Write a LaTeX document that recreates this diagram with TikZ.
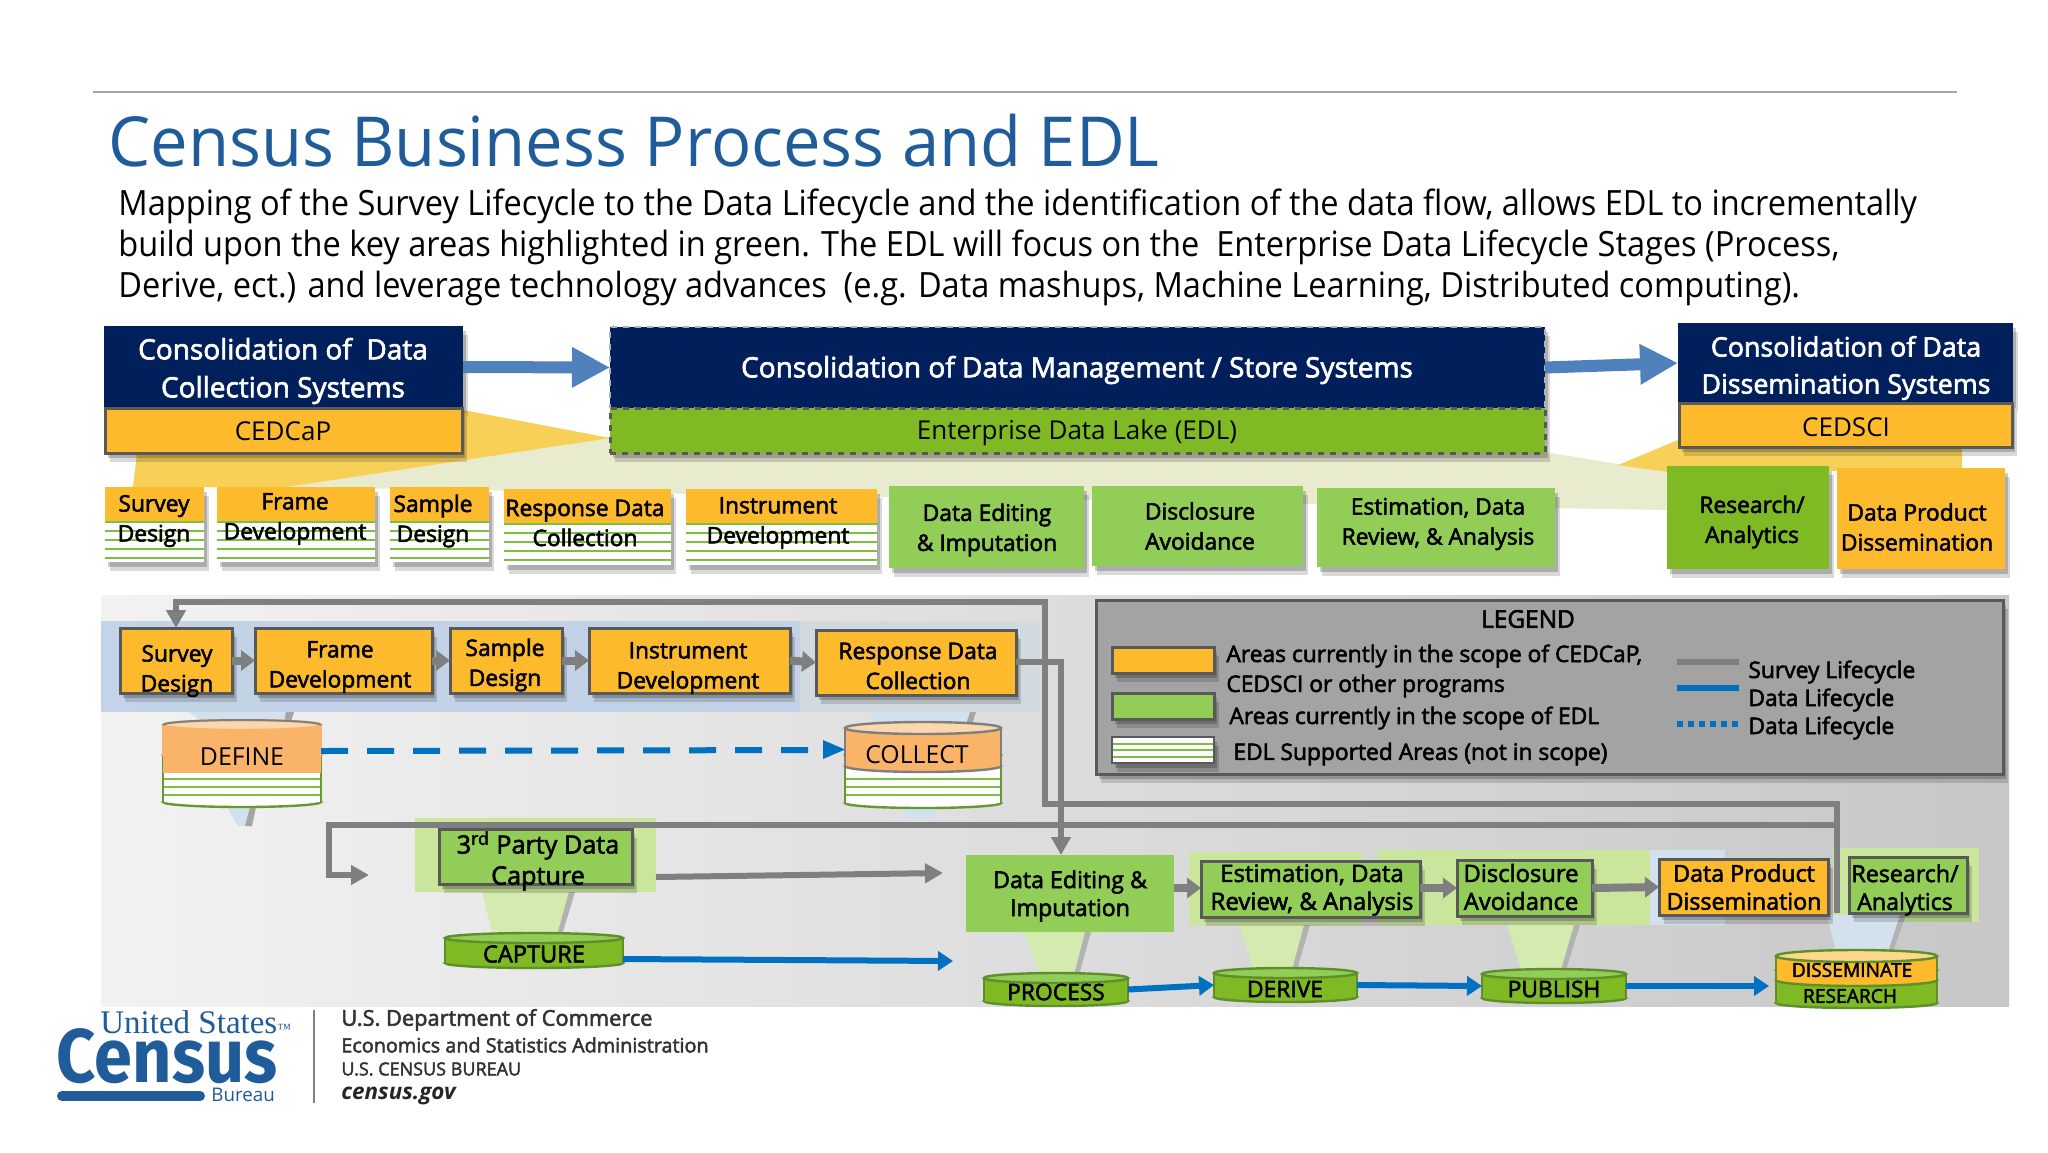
\documentclass[tikz,border=0pt]{standalone}
\usepackage{fontspec}
\setmainfont{Open Sans}
\newfontfamily\semi[FakeBold=2.4]{Open Sans}
\newfontfamily\tit[FakeStretch=0.97]{Open Sans}
\newfontfamily\bodyf[FakeStretch=0.935]{Open Sans}
\newfontfamily\logofont{Liberation Serif}
\newfontfamily\logobold[FakeStretch=0.9]{Fira Sans}
\usetikzlibrary{arrows.meta,shadows}
\definecolor{navy}{HTML}{001F5B}
\definecolor{yel}{HTML}{FDBA2C}
\definecolor{lgreen}{HTML}{92CE57}
\definecolor{dgreen}{HTML}{7FB923}
\definecolor{edge}{HTML}{595959}
\definecolor{gline}{HTML}{7F7F7F}
\definecolor{bline}{HTML}{0070C0}
\definecolor{sblue}{HTML}{4F81BD}
\definecolor{halo}{HTML}{C9E69C}
\definecolor{orng}{HTML}{F9B46A}
\definecolor{cedge}{HTML}{5E8F2A}
\definecolor{titleblue}{HTML}{1F5C99}
\definecolor{stripe}{HTML}{7FBF3F}
\definecolor{palef}{HTML}{E9EBCF}
\definecolor{yelf}{HTML}{F8D058}
\definecolor{bandone}{HTML}{BFD0E6}
\definecolor{bandtwo}{HTML}{D0DADF}
\definecolor{paleblue}{HTML}{D3E0EE}
\tikzset{
 x=0.5pt,y=-0.5pt,
 softsh/.style={general shadow={shadow xshift=1.5pt,shadow yshift=-2.5pt,fill=black,opacity=.2},
                general shadow={shadow xshift=2.5pt,shadow yshift=-4.5pt,fill=black,opacity=.15}},
 box/.style={rectangle,inner sep=0pt,outer sep=0pt,softsh},
 plain/.style={rectangle,inner sep=0pt,outer sep=0pt},
 yelbox/.style={box,fill=yel,draw=edge,line width=1.5pt},
 grnbox/.style={box,fill=lgreen,draw=edge,line width=1.5pt},
 lab/.style={inner sep=0pt,align=center,font=\semi\fontsize{11.4}{15}\selectfont,text=black},
 rowlab/.style={lab,font=\semi\fontsize{11.6}{14}\selectfont},
 whitelab/.style={inner sep=0pt,align=center,font=\semi\fontsize{14}{19}\selectfont,text=white},
 whitelabr/.style={inner sep=0pt,align=center,font=\semi\fontsize{13.4}{18.5}\selectfont,text=white},
 reglab/.style={inner sep=0pt,align=center,font=\fontsize{13}{15}\selectfont,text=black},
 reglabs/.style={inner sep=0pt,align=center,font=\fontsize{12.4}{15}\selectfont,text=black},
 leglab/.style={inner sep=0pt,anchor=west,font=\semi\fontsize{11.4}{13}\selectfont,text=black},
 body/.style={inner sep=0pt,anchor=west,font=\bodyf\fontsize{17.4}{20}\selectfont,text=black},
 garrow/.style={draw=gline,line width=3pt,-{Triangle[length=9pt,width=9.5pt]}},
 gsmall/.style={draw=gline,line width=4pt,-{Triangle[length=7pt,width=10pt]}},
 gpath/.style={draw=gline,line width=3pt},
 barrow/.style={draw=bline,line width=3pt,-{Triangle[length=7.5pt,width=9.5pt]}},
 blockarrow/.style={draw=sblue,line width=6pt,-{Triangle[length=19pt,width=19pt]}},
}
% box: style, name, x0,y0,x1,y1
\newcommand{\bx}[6]{%
 \pgfmathsetmacro{\bw}{(#5-#3)/2}\pgfmathsetmacro{\bh}{(#6-#4)/2}%
 \node[#1,minimum width=\bw pt,minimum height=\bh pt] (#2) at ({(#3+#5)/2},{(#4+#6)/2}) {};}
% stripes: x0,x1,y list
\newcommand{\stripelines}[3]{\foreach \sy in {#3}{\draw[stripe,line width=1pt] (#1,\sy) -- (#2,\sy);}}
% striped yellow-topped card: name,x0,y0,x1,y1,ymid
\newcommand{\card}[6]{%
 \bx{box,fill=white}{#1}{#2}{#3}{#4}{#5}%
 \fill[yel] (#2,#3) rectangle (#4,#6);%
 \pgfmathsetmacro{\sa}{#6+9}\pgfmathsetmacro{\sb}{#6+18}\pgfmathsetmacro{\sc}{#6+27}\pgfmathsetmacro{\sd}{#6+36}%
 \stripelines{#2}{#4}{#6,\sa,\sb,\sc,\sd}}
% cylinder: name,x0,y0,x1,y1,fill,edge,top fill,radius
\newcommand{\cyl}[9]{%
 \pgfmathsetmacro{\cx}{(#2+#4)/2}\pgfmathsetmacro{\rx}{(#4-#2)/2}%
 \pgfmathsetmacro{\yt}{#3+#9}\pgfmathsetmacro{\yb}{#5-#9}%
 \node[plain,minimum width=\rx pt,minimum height=1pt] (#1) at (\cx,{(#3+#5)/2}) {};%
 \path[draw=#7,fill=#6,line width=1.2pt] (\cx,\yb) ellipse [x radius=\rx,y radius=#9];%
 \fill[#6] (#2,\yt) rectangle (#4,\yb);%
 \draw[#7,line width=1.2pt] (#2,\yt) -- (#2,\yb) (#4,\yt) -- (#4,\yb);%
 \path[draw=#7,fill=#8,line width=1.2pt] (\cx,\yt) ellipse [x radius=\rx,y radius=#9];}
\begin{document}
\begin{tikzpicture}
\path[use as bounding box,fill=white] (0,0) rectangle (2048,1152);
% header
\draw[gray!70,line width=.8pt] (93,92) -- (1957,92);
\node[inner sep=0pt,anchor=west,text=titleblue,font=\tit\fontsize{34.5}{38}\selectfont] (title) at (108,141) {Census Business Process and EDL};
\node[body] (b1) at (118,206) {Mapping of the Survey Lifecycle to the Data Lifecycle and the identification of the data flow, allows EDL to incrementally};
\node[body] (b2) at (118,247) {build upon the key areas highlighted in green. The EDL will focus on the\ \ Enterprise Data Lifecycle Stages (Process,};
\node[body] (b3) at (118,288) {Derive, ect.) and leverage technology advances\ \ (e.g. Data mashups, Machine Learning, Distributed computing).};
% funnels of top part
\fill[palef] (610,437) -- (287,487) -- (1667,510) -- (1667,472) -- (1545,452) -- cycle;
\fill[yelf] (463,410) -- (610,438) -- (287,487) -- (133,487) -- (137,453) -- cycle;
\fill[yelf] (1678,440) -- (1618,465) -- (1668,472) -- (1962,470) -- (1962,447) -- cycle;
% top boxes
\bx{box,fill=navy}{cdc}{104}{326}{463}{408}
\bx{yelbox}{cedcap}{105}{408}{462}{453}
\bx{box,fill=navy,draw=gray!60,dashed,line width=1pt}{cdm}{610}{327}{1545}{408}
\bx{box,fill=dgreen,draw=edge,dashed,line width=1.5pt}{edl}{610}{408}{1545}{453}
\bx{box,fill=navy}{cdd}{1678}{323}{2013}{403}
\bx{yelbox}{cedsci}{1679}{403}{2012}{447}
\draw[blockarrow] (cdc.east) -- (cdm.west);
\draw[blockarrow] (cdm.east) -- (cdd.west);
\node[whitelab] (cdct) at (283,371) {Consolidation of\ \ Data\\Collection Systems};
\node[reglab] (cedcapt) at (283,431) {CEDCaP};
\node[whitelab] (cdmt) at (1077,370) {Consolidation of Data Management / Store Systems};
\node[reglab] (edlt) at (1077,433) {Enterprise Data Lake (EDL)};
\node[whitelabr] (cddt) at (1846,368) {Consolidation of Data\\Dissemination Systems};
\node[reglab] (cedscit) at (1846,427) {CEDSCI};
% top row
\card{ta}{105}{487}{204}{562}{522}
\card{tb}{217}{487}{375}{562}{522}
\card{tc}{390}{487}{489}{562}{522}
\card{td}{504}{489}{671}{565}{524}
\card{te}{686}{489}{877}{565}{524}
\bx{box,fill=lgreen}{tf}{889}{486}{1084}{568}
\bx{box,fill=lgreen}{tg}{1092}{486}{1303}{566}
\bx{box,fill=lgreen}{th}{1317}{488}{1555}{567}
\bx{box,fill=dgreen}{ti}{1667}{466}{1829}{569}
\bx{box,fill=yel}{tj}{1837}{468}{2005}{569}
\node[lab] (tat) at (154,521) {Survey\\Design};
\node[lab] (tbt) at (295,519) {Frame\\Development};
\node[lab] (tct) at (433,521) {Sample\\Design};
\node[lab] (tdt) at (585,523) {Response Data\\Collection};
\node[lab] (tet) at (778,523) {Instrument\\Development};
\node[lab] (tft) at (987,530) {Data Editing\\\& Imputation};
\node[lab] (tgt) at (1200,526) {Disclosure\\Avoidance};
\node[lab] (tht) at (1438,524) {Estimation, Data\\Review, \& Analysis};
\node[lab] (tit) at (1752,522) {Research/\\Analytics};
\node[lab] (tjt) at (1917,527) {Data Product\\Dissemination};
% lower background
\shade[left color=black!5,right color=black!22] (101,595) rectangle (2009,1006);
\fill[bandone,opacity=.9] (101,621) rectangle (800,712);
\fill[bandtwo,opacity=.9] (800,621) rectangle (1040,712);
% halos
\fill[halo] (415,818) rectangle (656,892);
\fill[halo] (1189,852) rectangle (1362,925);
\fill[halo] (1378,850) rectangle (1718,925);
\fill[paleblue] (1650,850) rectangle (1725,925);
\fill[halo] (1833,848) rectangle (1979,922);
% funnels lower
\fill[paleblue] (189,712) -- (294,712) -- (280,720) -- (200,720) -- cycle;
\fill[gline!70] (286,712) -- (294,712) -- (291,722) -- (284,722) -- cycle;
\fill[paleblue] (227,807) -- (256,807) -- (250,826) -- (238,826) -- cycle;
\fill[gline!70] (250,807) -- (256,807) -- (252,826) -- (245,826) -- cycle;
\fill[paleblue] (869,712) -- (976,712) -- (970,724) -- (876,724) -- cycle;
\fill[gline!70] (970,712) -- (976,712) -- (972,724) -- (966,724) -- cycle;
\fill[paleblue] (903,808) -- (938,808) -- (934,819) -- (908,819) -- cycle;
\fill[halo!80!white] (482,892) -- (575,892) -- (562,935) -- (493,935) -- cycle;
\fill[gline!60] (569,892) -- (575,892) -- (562,935) -- (557,935) -- cycle;
\fill[halo!80!white] (1024,932) -- (1091,932) -- (1079,975) -- (1040,975) -- cycle;
\fill[gline!60] (1085,932) -- (1091,932) -- (1079,975) -- (1074,975) -- cycle;
\fill[halo!80!white] (1239,925) -- (1310,925) -- (1297,970) -- (1254,970) -- cycle;
\fill[gline!60] (1304,925) -- (1310,925) -- (1297,970) -- (1292,970) -- cycle;
\fill[halo!80!white] (1507,925) -- (1580,925) -- (1566,970) -- (1521,970) -- cycle;
\fill[gline!60] (1574,925) -- (1580,925) -- (1566,970) -- (1561,970) -- cycle;
\fill[paleblue] (1827,915) -- (1906,915) -- (1893,952) -- (1836,952) -- cycle;
\fill[gline!60] (1900,915) -- (1906,915) -- (1893,952) -- (1888,952) -- cycle;
% row 2
\bx{yelbox}{ra}{120}{628}{232}{693}
\bx{yelbox}{rb}{255}{628}{432}{693}
\bx{yelbox}{rc}{450}{628}{562}{693}
\bx{yelbox}{rd}{589}{628}{790}{693}
\bx{yelbox}{re}{816}{630}{1016}{695}
\draw[gsmall] (ra.east) -- (rb.west);
\draw[gsmall] (rb.east) -- (rc.west);
\draw[gsmall] (rc.east) -- (rd.west);
\draw[gsmall] (rd.east) -- (re.west);
\node[lab] (rat) at (177,671) {Survey\\Design};
\node[lab] (rbt) at (340,667) {Frame\\Development};
\node[lab] (rct) at (505,665) {Sample\\Design};
\node[lab] (rdt) at (688,668) {Instrument\\Development};
\node[lab] (ret) at (918,666) {Response Data\\Collection};
% cylinders define / collect
\cyl{defineS}{163}{750}{321}{807}{white}{stripe!80!black}{white}{5}
\stripelines{164}{320}{779,787,795}
\cyl{defineO}{163}{720}{321}{760}{orng}{orng}{orng!55!white}{5}
\fill[orng] (163,730) rectangle (321,773);
\draw[gray,line width=1pt] (163,725) arc[start angle=180,end angle=0,x radius=79,y radius=-5];
\cyl{collectS}{845}{750}{1001}{808}{white}{stripe!80!black}{white}{5}
\stripelines{846}{1000}{779,787,795}
\cyl{collectO}{845}{722}{1001}{772}{orng}{gline}{orng!55!white}{6}
\node[reglabs] (dft) at (242,757) {DEFINE};
\node[reglabs] (clt) at (917,755) {COLLECT};
% third party
\bx{grnbox}{tp}{439}{829}{632}{884}
\node[lab,font=\semi\fontsize{12.6}{15.5}\selectfont] (tpt) at (538,861) {3\textsuperscript{rd} Party Data\\Capture};
\cyl{capture}{445}{933}{623}{968}{dgreen}{cedge}{lgreen}{5}
\node[lab,font=\semi\fontsize{11.8}{15}\selectfont] (capt) at (534,954) {CAPTURE};
% row 3
\bx{plain,fill=lgreen}{sa}{966}{855}{1174}{932}
\bx{grnbox}{sb}{1201}{861}{1420}{917}
\bx{grnbox}{sc}{1457}{860}{1592}{916}
\bx{yelbox}{sd}{1659}{859}{1828}{915}
\bx{grnbox}{se}{1849}{857}{1967}{913}
\node[rowlab] (sat) at (1070,896) {Data Editing \&\\Imputation};
\node[rowlab,font=\semi\fontsize{12}{14}\selectfont] (sbt) at (1312,890) {Estimation, Data\\Review, \& Analysis};
\node[rowlab,font=\semi\fontsize{11.9}{14}\selectfont] (sct) at (1521,887) {Disclosure\\Avoidance};
\node[rowlab] (sdt) at (1744,887) {Data Product\\Dissemination};
\node[rowlab] (set) at (1905,890) {Research/\\Analytics};
\coordinate (sax) at (1174,888);
\coordinate (sbw) at (1201,888);
\draw[gsmall] (sax) -- (sbw);
\coordinate (sbe) at (1420,888);
\draw[gsmall] (sbe) -- (sc.west);
\draw[gsmall] (sc.east) -- (sd.west);
% lower cylinders
\cyl{proc}{984}{973}{1128}{1006}{dgreen}{cedge}{lgreen}{5}
\cyl{deriv}{1214}{968}{1357}{1002}{dgreen}{cedge}{lgreen}{5}
\cyl{publ}{1482}{969}{1626}{1003}{dgreen}{cedge}{lgreen}{5}
\cyl{research}{1776}{965}{1937}{1008}{dgreen}{cedge}{lgreen}{5}
\cyl{dissem}{1776}{950}{1937}{986}{yel}{cedge}{yel!55!white}{6}
\node[lab] (proct) at (1056,992) {PROCESS};
\node[lab] (dert) at (1285,989) {DERIVE};
\node[lab] (pubt) at (1554,989) {PUBLISH};
\node[lab,font=\semi\fontsize{9.6}{12}\selectfont] (dist) at (1852,970) {DISSEMINATE};
\node[lab,font=\semi\fontsize{9.6}{12}\selectfont] (rest) at (1850,996) {RESEARCH};
\draw[barrow,line width=3pt] (proc.east) -- (deriv.west);
\draw[barrow] (deriv.east) -- (publ.west);
\coordinate (disin) at (1769,986);
\draw[barrow] (publ.east) -- (disin);
\coordinate (capend) at (953,961);
\draw[barrow] (capture.east |- 0,959) -- (capend);
\coordinate (dashfrom) at (823,750);
\draw[bline,line width=3pt,dash pattern=on 13.5pt off 9.5pt] (defineO.east |- 0,751) -- (dashfrom);
\fill[bline] (dashfrom) ++(0,-10) -- (845,749.5) -- (823,759) -- cycle;
% grey lines
\coordinate (g1) at (1837,913);
\coordinate (g2) at (1837,804);
\coordinate (g3) at (1045,804);
\coordinate (g4) at (1045,602);
\coordinate (g5) at (176,602);
\draw[garrow] (g1) -- (g2) -- (g3) -- (g4) -- (g5) -- (ra.north -| g5);
\coordinate (h1) at (1061,662);
\draw[garrow] (re.east |- h1) -- (h1) -- (sa.north -| h1);
\coordinate (k1) at (1837,825);
\coordinate (k2) at (329,825);
\coordinate (k3) at (329,875);
\coordinate (k4) at (369,875);
\draw[garrow] (k1) -- (k2) -- (k3) -- (k4);
\coordinate (m1) at (656,877);
\coordinate (m2) at (943,873);
\draw[garrow] (m1) -- (m2);
% legend
\bx{box,fill=black!36,draw=edge,line width=1.5pt}{legend}{1096}{600}{2003}{774}
\node[lab,font=\semi\fontsize{12.2}{15}\selectfont] (legt) at (1528,619) {LEGEND};
\bx{yelbox}{swa}{1112}{647}{1214}{673}
\bx{grnbox}{swb}{1112}{693}{1214}{719}
\bx{box,fill=white,draw=edge,line width=1pt}{swc}{1112}{737}{1214}{763}
\stripelines{1113}{1213}{744,750,757}
\node[leglab] (la) at (1226,656) {Areas currently in the scope of CEDCaP,};
\node[leglab] (lb) at (1226,686) {CEDSCI or other programs};
\node[leglab] (lc) at (1229,718) {Areas currently in the scope of EDL};
\node[leglab] (ld) at (1233,754) {EDL Supported Areas (not in scope)};
\coordinate (lk1) at (1677,662); \coordinate (lk2) at (1739,662);
\coordinate (lk3) at (1677,688); \coordinate (lk4) at (1739,688);
\coordinate (lk5) at (1677,724); \coordinate (lk6) at (1739,724);
\draw[gpath] (lk1) -- (lk2);
\draw[bline,line width=3pt] (lk3) -- (lk4);
\draw[bline,line width=3pt,dash pattern=on 3pt off 2.5pt] (lk5) -- (lk6);
\node[leglab] (le) at (1748,672) {Survey Lifecycle};
\node[leglab] (lf) at (1748,700) {Data Lifecycle};
\node[leglab] (lg) at (1748,728) {Data Lifecycle};
% logo
\node[inner sep=0pt,anchor=west,text=titleblue,font=\logofont\fontsize{16.5}{18}\selectfont] (us) at (100,1022) {United States{\fontsize{7}{7}\selectfont ™}};
\node[inner sep=0pt,anchor=center,text=titleblue,font=\logobold\bfseries\fontsize{38}{40}\selectfont] (cen) at (167,1056) {Census};
\draw[titleblue,line width=5pt,line cap=round] (62,1096) -- (200,1096);
\node[inner sep=0pt,anchor=west,text=titleblue,font=\fontsize{9.4}{11}\selectfont] (bur) at (211,1095) {Bureau};
\draw[gray,line width=.8pt] (314,1010) -- (314,1103);
\node[inner sep=0pt,anchor=west,text=black!80,font=\semi\fontsize{10.9}{12}\selectfont] (d1) at (341,1020) {U.S. Department of Commerce};
\node[inner sep=0pt,anchor=west,text=black!80,font=\semi\fontsize{9.9}{12}\selectfont] (d2) at (341,1045) {Economics and Statistics Administration};
\node[inner sep=0pt,anchor=west,text=black!80,font=\semi\fontsize{9}{12}\selectfont] (d3) at (341,1069) {U.S. CENSUS BUREAU};
\node[inner sep=0pt,anchor=west,text=black!85,font=\bfseries\itshape\fontsize{11.2}{12}\selectfont] (d4) at (341,1096) {census.gov};
\end{tikzpicture}
\end{document}
